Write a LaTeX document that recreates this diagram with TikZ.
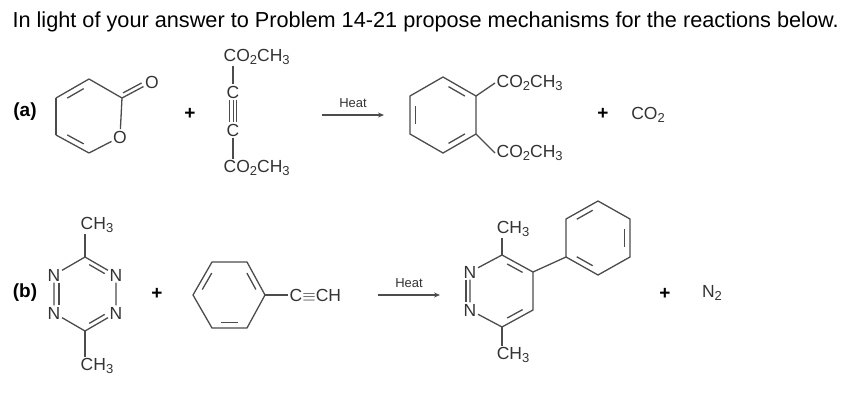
\documentclass[tikz,border=0pt]{standalone}
\usepackage{fontspec}
\setmainfont{Liberation Sans}
\usetikzlibrary{calc, arrows.meta}
\tikzstyle{bond} = [draw=black!70, line width=1.3pt]
\tikzstyle{atom} = [inner sep=1.5pt, font=\fontsize{17.5}{17.5}\selectfont, text=black!80]
\tikzstyle{plus} = [font=\fontsize{19}{19}\selectfont\bfseries]
\tikzstyle{heat} = [font=\fontsize{13}{13}\selectfont, text=black!80]
\tikzstyle{arrow} = [draw=black!70, line width=1.2pt, -{Stealth[length=6pt,width=5pt]}]
\newcommand{\inbond}[3]{%
  \coordinate (tmpA) at ($(#1)!.2!(#2)$);
  \coordinate (tmpB) at ($(#2)!.2!(#1)$);
  \draw [bond] ($(tmpA)!.17!(#3)$) -- ($(tmpB)!.17!(#3)$);}
\newcommand{\sub}[1]{\raisebox{-0.35ex}{\fontsize{13}{13}\selectfont #1}}

\begin{document}
\begin{tikzpicture}[x=1pt, y=-1pt]
	\useasboundingbox (0,0) rectangle (868,402);
	\node (Title) [anchor=west, font=\fontsize{21.7}{21.7}\selectfont] at (9,22) {In light of your answer to Problem 14-21 propose mechanisms for the reactions below.};
	\node (LabelA) [font=\fontsize{19}{19}\selectfont\bfseries] at (25,112) {(a)};
	\node (LabelB) [font=\fontsize{19}{19}\selectfont\bfseries] at (25,293) {(b)};

	% (a) pyrone
	\coordinate (Pc) at (90,117);
	\coordinate (P1) at (89,79);
	\coordinate (P2) at (122,98);
	\node (PO) [atom] at (120,137) {O};
	\coordinate (P4) at (89,153);
	\coordinate (P5) at (56,135);
	\coordinate (P6) at (56,98);
	\node (PCO) [atom] at (152,82) {O};
	\draw [bond] (P1) -- (P2);
	\draw [bond] (P2) -- (PO);
	\draw [bond] (PO) -- (P4);
	\draw [bond] (P4) -- (P5);
	\draw [bond] (P5) -- (P6);
	\draw [bond] (P6) -- (P1);
	\inbond{P6}{P1}{Pc}
	\inbond{P4}{P5}{Pc}
	\draw [bond] (P2) -- (PCO);
	\draw [bond] ($(P2)!.1!(PCO.center)+(-2,-3.5)$) -- ($(P2)!.72!(PCO.center)+(-2,-3.5)$);
	\node (PlusA1) [plus] at (190,114) {+};

	% (a) alkyne
	\node (EsT) [atom, anchor=west] at (222,57) {CO\sub{2}CH\sub{3}};
	\node (AlkC1) [atom] at (233,92) {C};
	\node (AlkC2) [atom] at (233,130) {C};
	\node (EsB) [atom, anchor=west] at (222,168) {CO\sub{2}CH\sub{3}};
	\draw [bond] (AlkC1 |- EsT.south) -- (AlkC1);
	\draw [bond] (AlkC2) -- (AlkC2 |- EsB.north);
	\draw [bond, line width=1pt] (AlkC1.south) -- (AlkC2.north);
	\draw [bond, line width=1pt] ([xshift=-3.5pt]AlkC1.south) -- ([xshift=-3.5pt]AlkC2.north);
	\draw [bond, line width=1pt] ([xshift=3.5pt]AlkC1.south) -- ([xshift=3.5pt]AlkC2.north);

	\coordinate (ArrA1) at (322,115);
	\coordinate (ArrA2) at (384,115);
	\draw [arrow] (ArrA1) -- node[heat, above=3pt] {Heat} (ArrA2);

	% (a) product
	\coordinate (Bc) at (443,115);
	\coordinate (B1) at (443,77);
	\coordinate (B2) at (476,96);
	\coordinate (B3) at (476,134);
	\coordinate (B4) at (443,153);
	\coordinate (B5) at (410,134);
	\coordinate (B6) at (410,96);
	\draw [bond] (B1) -- (B2) -- (B3) -- (B4) -- (B5) -- (B6) -- cycle;
	\inbond{B1}{B2}{Bc}
	\inbond{B3}{B4}{Bc}
	\inbond{B5}{B6}{Bc}
	\node (EsP1) [atom, anchor=west] at (495,83) {CO\sub{2}CH\sub{3}};
	\node (EsP2) [atom, anchor=west] at (495,153) {CO\sub{2}CH\sub{3}};
	\draw [bond] (B2) -- (EsP1.west);
	\draw [bond] (B3) -- (EsP2.west);
	\node (PlusA2) [plus] at (603,114) {+};
	\node (CO2) [atom] at (648,115) {CO\sub{2}};

	% (b) tetrazine
	\coordinate (Tc) at (85,294);
	\coordinate (T1) at (85,257);
	\node (TN2) [atom] at (116,275) {N};
	\node (TN3) [atom] at (116,313) {N};
	\coordinate (T4) at (85,331);
	\node (TN5) [atom] at (54,313) {N};
	\node (TN6) [atom] at (54,275) {N};
	\draw [bond] (T1) -- (TN2) -- (TN3) -- (T4) -- (TN5) -- (TN6) -- (T1);
	\draw [bond] ($(T1)!.2!(TN2.center)+(-2,4)$) -- ($(T1)!.7!(TN2.center)+(-2,4)$);
	\draw [bond] ($(T4)!.2!(TN3.center)+(-2,-4)$) -- ($(T4)!.7!(TN3.center)+(-2,-4)$);
	\draw [bond] ([xshift=5pt]TN6.south) -- ([xshift=5pt]TN5.north);
	\node (TMe1) [atom] at (97,225) {CH\sub{3}};
	\node (TMe2) [atom] at (97,366) {CH\sub{3}};
	\draw [bond] (T1) -- (T1 |- TMe1.south);
	\draw [bond] (T4) -- (T4 |- TMe2.north);
	\node (PlusB1) [plus] at (157,294) {+};

	% (b) phenylacetylene
	\coordinate (Ac) at (229,295);
	\coordinate (A1) at (212,262);
	\coordinate (A2) at (247,262);
	\coordinate (A3) at (265,295);
	\coordinate (A4) at (247,328);
	\coordinate (A5) at (212,328);
	\coordinate (A6) at (193,295);
	\draw [bond] (A1) -- (A2) -- (A3) -- (A4) -- (A5) -- (A6) -- cycle;
	\inbond{A2}{A3}{Ac}
	\inbond{A4}{A5}{Ac}
	\inbond{A6}{A1}{Ac}
	\node (Ethy) [atom, anchor=west] at (288,295) {C$\equiv$CH};
	\draw [bond] (A3) -- (Ethy.west);

	\coordinate (ArrB1) at (378,295);
	\coordinate (ArrB2) at (440,295);
	\draw [arrow] (ArrB1) -- node[heat, above=3pt] {Heat} (ArrB2);

	% (b) pyridazine
	\coordinate (Dc) at (502,291);
	\coordinate (D1) at (502,255);
	\coordinate (D2) at (533,272);
	\coordinate (D3) at (533,310);
	\coordinate (D4) at (502,327);
	\node (DN5) [atom] at (470,310) {N};
	\node (DN6) [atom] at (470,272) {N};
	\draw [bond] (D1) -- (D2) -- (D3) -- (D4) -- (DN5) -- (DN6) -- (D1);
	\inbond{D1}{D2}{Dc}
	\inbond{D3}{D4}{Dc}
	\draw [bond] ([xshift=-4pt]DN6.south) -- ([xshift=-4pt]DN5.north);
	\node (DMe1) [atom] at (513,229) {CH\sub{3}};
	\node (DMe2) [atom] at (513,355) {CH\sub{3}};
	\draw [bond] (D1) -- (D1 |- DMe1.south);
	\draw [bond] (D4) -- (D4 |- DMe2.north);
	\coordinate (Fc) at (598,238);
	\coordinate (F1) at (566,257);
	\coordinate (F2) at (566,219);
	\coordinate (F3) at (598,201);
	\coordinate (F4) at (630,219);
	\coordinate (F5) at (630,257);
	\coordinate (F6) at (598,275);
	\draw [bond] (F1) -- (F2) -- (F3) -- (F4) -- (F5) -- (F6) -- cycle;
	\inbond{F2}{F3}{Fc}
	\inbond{F4}{F5}{Fc}
	\inbond{F6}{F1}{Fc}
	\draw [bond] (D2) -- (F1);
	\node (PlusB2) [plus] at (665,294) {+};
	\node (N2) [atom] at (712,293) {N\sub{2}};
\end{tikzpicture}
\end{document}
